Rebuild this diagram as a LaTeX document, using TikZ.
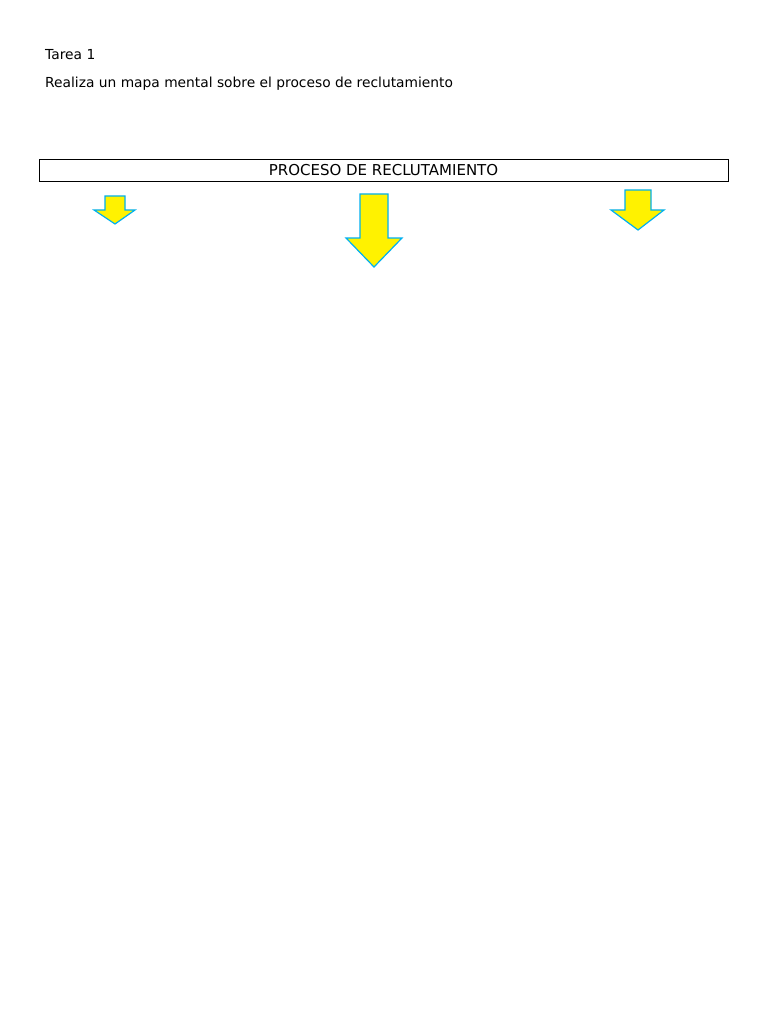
\documentclass[tikz,border=0pt]{standalone}
\usepackage{fontspec}
\setmainfont{DejaVu Sans}
\definecolor{arrowline}{HTML}{00B0F0}
\begin{document}
\begin{tikzpicture}[x=1pt,y=-1pt,
  txt/.style={anchor=west,inner sep=0pt,font=\fontsize{13.8}{16}\selectfont},
  titlebox/.style={draw=black,line width=0.8pt,minimum width=689pt,minimum height=22pt,inner sep=0pt,font=\fontsize{15}{17}\selectfont},
  downarrow/.style={fill=yellow,draw=arrowline,line width=1.2pt,line join=miter}]
\useasboundingbox[fill=white] (0,0) rectangle (768,1024);
\node[txt] (tarea) at (45,54.5) {Tarea 1};
\node[txt] (inst) at (45,83.5) {Realiza un mapa mental sobre el proceso de reclutamiento};
\node[titlebox] (title) at (383.5,170) {PROCESO DE RECLUTAMIENTO};
% left arrow
\draw[downarrow] (105,196) -- (125,196) -- (125,210) -- (135,210) -- (115,224) -- (94,210) -- (105,210) -- cycle;
% middle arrow
\draw[downarrow] (360,194) -- (388,194) -- (388,238) -- (402,238) -- (374,267) -- (346,238) -- (360,238) -- cycle;
% right arrow
\draw[downarrow] (625,190) -- (651,190) -- (651,210) -- (664,210) -- (638,230) -- (611,210) -- (625,210) -- cycle;
\end{tikzpicture}
\end{document}
